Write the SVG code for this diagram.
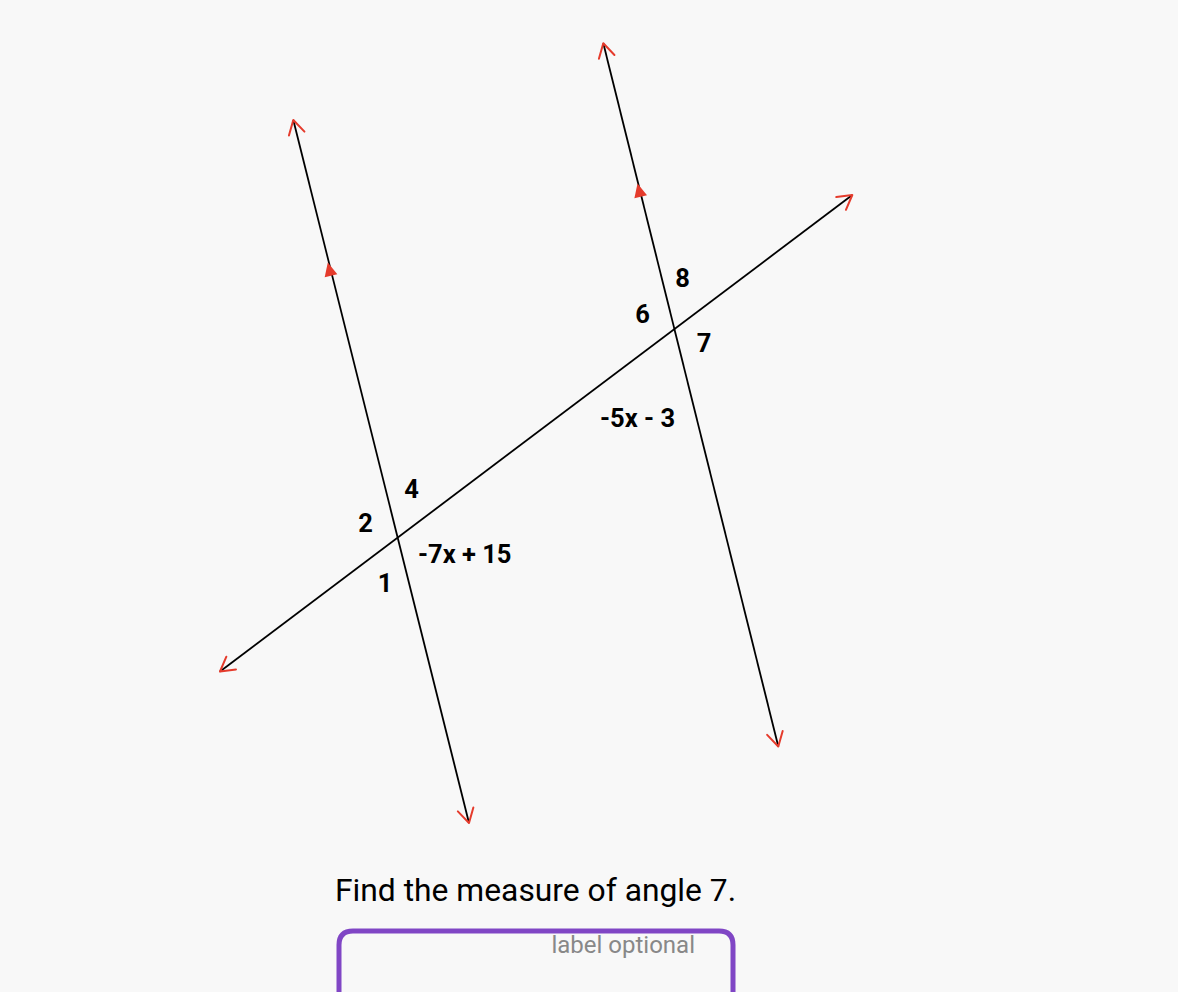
<svg xmlns="http://www.w3.org/2000/svg" width="1178" height="992" viewBox="0 0 1178 992">
<style>
.ln{stroke:#000;stroke-width:1.8;fill:none}
.lbl{font-family:Roboto,"Liberation Sans",sans-serif;font-weight:bold;font-size:25.5px;fill:#000}
.q{font-family:Roboto,"Liberation Sans",sans-serif;font-size:31.8px;fill:#000}
.hint{font-family:Roboto,"Liberation Sans",sans-serif;font-size:24px;fill:#888}
.tri{fill:#e53b2c}
</style>
<defs>
<marker id="open" markerUnits="userSpaceOnUse" markerWidth="40" markerHeight="40" viewBox="-20 -20 40 40" refX="0" refY="0" orient="auto-start-reverse">
<path d="M-14,-8 L0,0 L-14,8" fill="none" stroke="#e53b2c" stroke-width="2" stroke-linecap="round" stroke-linejoin="round"/>
</marker>
</defs>
<rect width="1178" height="992" fill="#f8f8f8"/>
<g id="connectors">
<line id="lineA" class="ln" x1="469" y1="823" x2="293.3" y2="120" marker-start="url(#open)" marker-end="url(#open)"/>
<line id="lineB" class="ln" x1="778.3" y1="746.5" x2="603.3" y2="43.3" marker-start="url(#open)" marker-end="url(#open)"/>
<line id="transversal" class="ln" x1="220" y1="671.5" x2="852.3" y2="195" marker-start="url(#open)" marker-end="url(#open)"/>
<polygon class="tri" points="327.8,262.5 337.3,274.2 324.7,277.3"/>
<polygon class="tri" points="637.5,183.5 647.0,195.2 634.4,198.3"/>
</g>
<g id="labels-left">
<text class="lbl" x="411.5" y="498" text-anchor="middle">4</text>
<text class="lbl" x="365.5" y="532" text-anchor="middle">2</text>
<text class="lbl" x="385" y="592" text-anchor="middle">1</text>
<text class="lbl" x="418" y="563">-7x + 15</text>
</g>
<g id="labels-right">
<text class="lbl" x="682.5" y="287" text-anchor="middle">8</text>
<text class="lbl" x="642.5" y="323" text-anchor="middle">6</text>
<text class="lbl" x="704" y="352" text-anchor="middle">7</text>
<text class="lbl" x="600" y="427">-5x - 3</text>
</g>
<g id="question">
<text class="q" x="335" y="901">Find the measure of angle 7.</text>
</g>
<g id="answer-box">
<path d="M339,1000 L339,945 Q339,931 353,931 L719,931 Q733,931 733,945 L733,1000" fill="none" stroke="#8046c5" stroke-width="5"/>
<text class="hint" x="695" y="953" text-anchor="end">label optional</text>
</g>
</svg>
